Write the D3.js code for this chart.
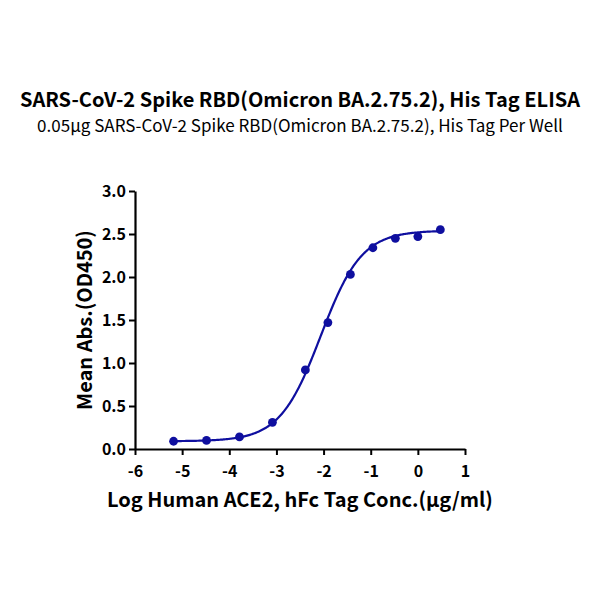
<!DOCTYPE html>
<html>
<head>
<meta charset="utf-8">
<script src="https://cdn.jsdelivr.net/npm/d3@7"></script>
<style>
  body { margin: 0; background: #fff; }
  text { font-family: "Noto Sans CJK SC", "Noto Sans", sans-serif; }
</style>
</head>
<body>
<svg width="600" height="600"></svg>
<script>
// log concentration (µg/ml) and mean OD450 readings
var logConc = [-5.182, -4.483, -3.784, -3.085, -2.386, -1.908, -1.431, -0.954, -0.477, 0.0, 0.477];
var meanAbs = [0.09, 0.10, 0.14, 0.31, 0.92, 1.47, 2.03, 2.34, 2.45, 2.47, 2.55];
var xTicks = [-6, -5, -4, -3, -2, -1, 0, 1];
var yTicks = [0, 0.5, 1.0, 1.5, 2.0, 2.5, 3.0];

// 4PL fit parameters for the drawn curve
var fitBottom = 0.09, fitTop = 2.54, fitLogEC50 = -2.06, fitHill = 1.0;

var svg = d3.select('svg');
var blue = '#0f0f9f';

var x = d3.scaleLinear().domain([-6, 1]).range([135, 465]);
var y = d3.scaleLinear().domain([0, 3]).range([449, 191]);

svg.append('text')
  .attr('x', 300).attr('y', 107)
  .attr('text-anchor', 'middle')
  .style('font-size', '20px').style('font-weight', 'bold')
  .text('SARS-CoV-2 Spike RBD(Omicron BA.2.75.2), His Tag ELISA');

svg.append('text')
  .attr('x', 300).attr('y', 132)
  .attr('text-anchor', 'middle')
  .style('font-size', '17px')
  .text('0.05μg SARS-CoV-2 Spike RBD(Omicron BA.2.75.2), His Tag Per Well');

var xAxis = svg.append('g')
  .attr('transform', 'translate(0,' + 449 + ')')
  .call(d3.axisBottom(x).tickValues(xTicks).tickFormat(function(d) { return String(d); }).tickSize(6).tickSizeOuter(0));

var yAxis = svg.append('g')
  .attr('transform', 'translate(' + 135 + ',0)')
  .call(d3.axisLeft(y).tickValues(yTicks).tickFormat(d3.format('.1f')).tickSize(6).tickSizeOuter(0));

[xAxis, yAxis].forEach(function(g) {
  g.select('.domain').attr('stroke', '#000').attr('stroke-width', 2.2);
  g.selectAll('.tick line').attr('stroke', '#000').attr('stroke-width', 2);
  g.selectAll('.tick text')
    .attr('fill', '#000')
    .style('font-family', '"Noto Sans CJK SC", "Noto Sans", sans-serif')
    .style('font-size', '16px').style('font-weight', 'bold');
});
xAxis.selectAll('.tick text').attr('y', 12).attr('dy', '1em');
yAxis.selectAll('.tick text').attr('x', -9);

svg.append('text')
  .attr('transform', 'translate(92,' + 320 + ') rotate(-90)')
  .attr('text-anchor', 'middle')
  .style('font-size', '20px').style('font-weight', 'bold')
  .text('Mean Abs.(OD450)');

svg.append('text')
  .attr('x', 300).attr('y', 507)
  .attr('text-anchor', 'middle')
  .style('font-size', '20px').style('font-weight', 'bold')
  .text('Log Human ACE2, hFc Tag Conc.(μg/ml)');

// fitted curve
var curveX = d3.range(logConc[0], logConc[logConc.length - 1] + 0.001, 0.02);
var line = d3.line()
  .x(function(d) { return x(d); })
  .y(function(d) {
    return y(fitBottom + (fitTop - fitBottom) / (1 + Math.pow(10, (fitLogEC50 - d) * fitHill)));
  });

svg.append('path')
  .datum(curveX)
  .attr('d', line)
  .attr('fill', 'none')
  .attr('stroke', blue)
  .attr('stroke-width', 2.2);

svg.selectAll('circle.pt')
  .data(logConc)
  .enter().append('circle')
  .attr('class', 'pt')
  .attr('cx', function(d) { return x(d); })
  .attr('cy', function(d, i) { return y(meanAbs[i]); })
  .attr('r', 4.4)
  .attr('fill', blue);
</script>
</body>
</html>
